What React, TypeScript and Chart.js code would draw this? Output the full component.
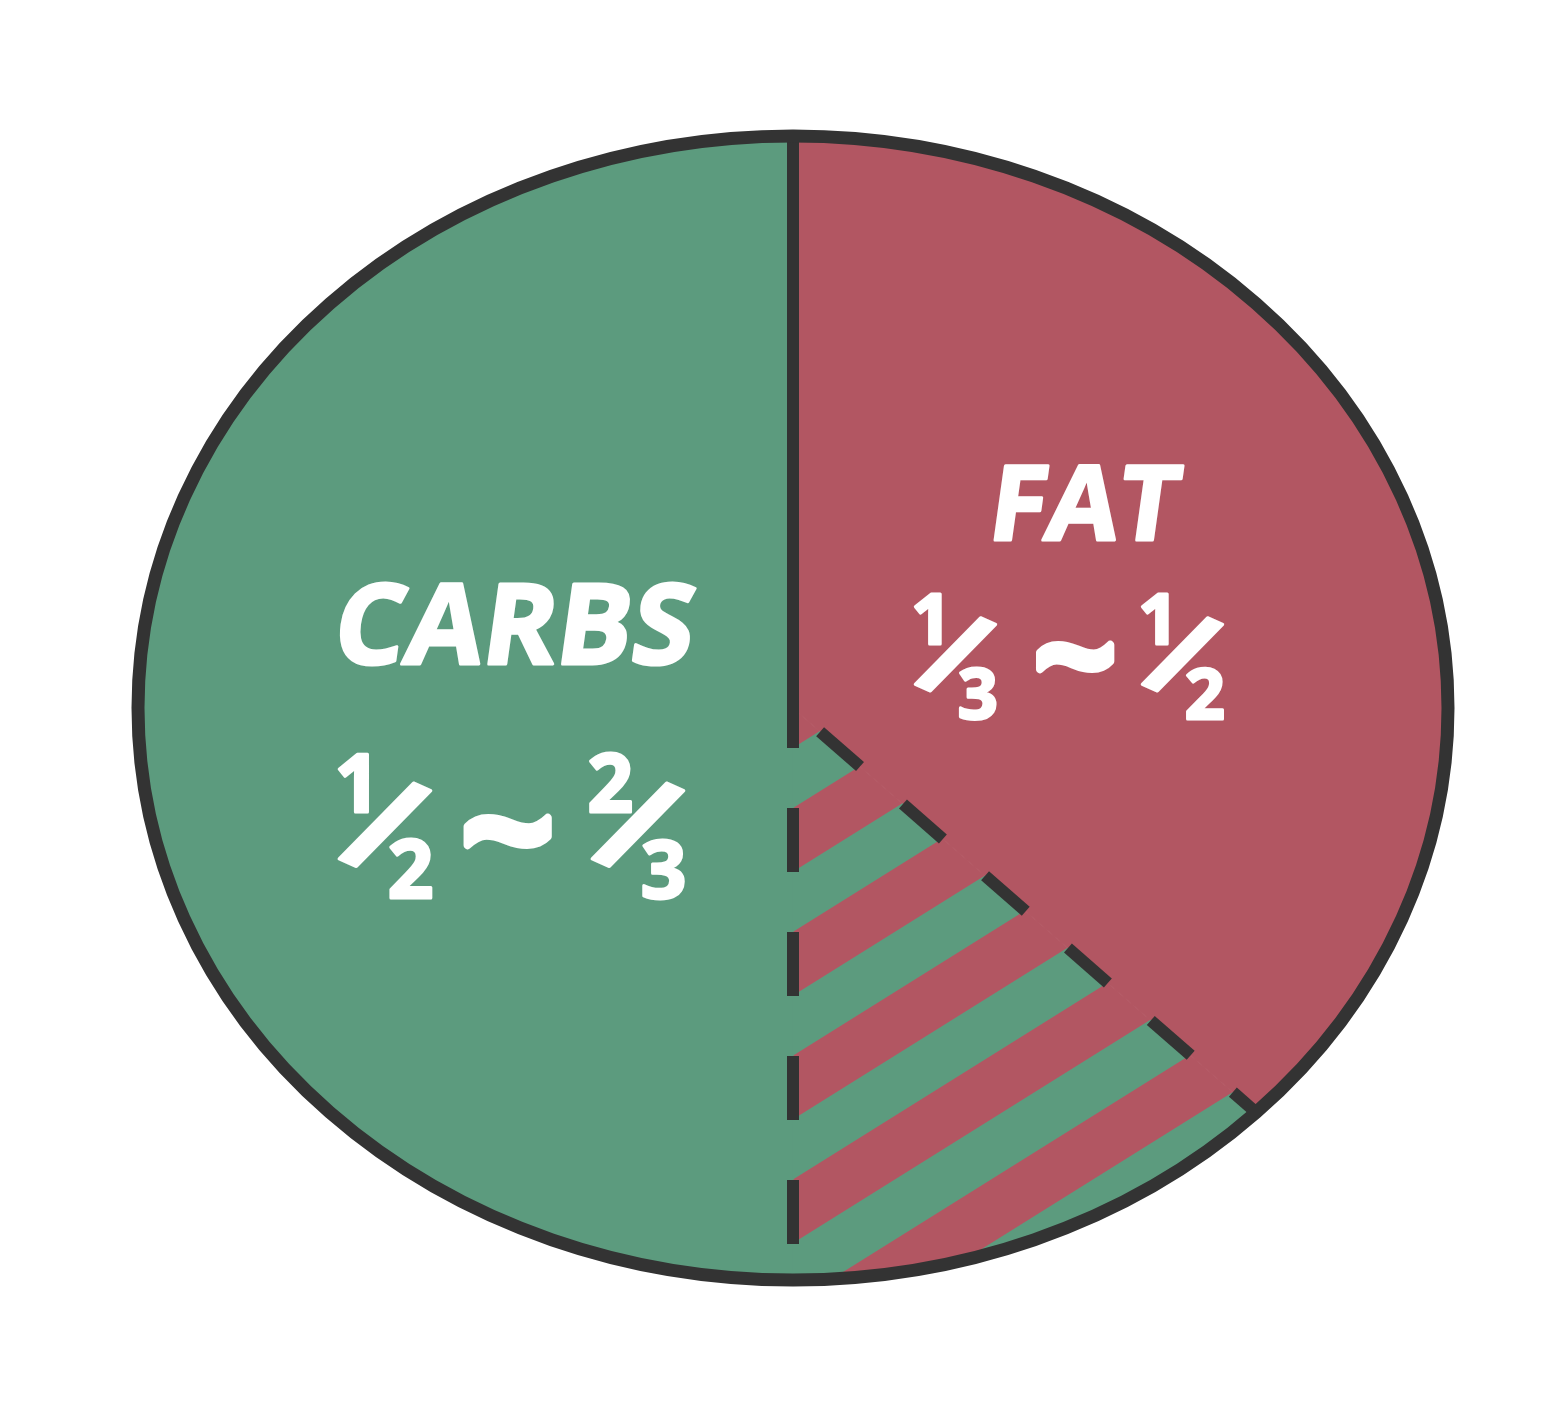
import { useEffect, useRef } from "react";
import { Chart, registerables } from "chart.js";

Chart.register(...registerables);

// ---- data ----
const categories = ["Fat", "Fat or carbs", "Carbs"];
const shares = [37.5, 12.5, 50];
const titles = ["FAT", "", "CARBS"];
const rangeFrom: (string[] | null)[] = [["1", "3"], null, ["1", "2"]];
const rangeTo: (string[] | null)[] = [["1", "2"], null, ["2", "3"]];
const HATCH_INDEX = 1;

// ---- style ----
const GREEN = "#5C9B7E";
const RED = "#B25662";
const INK = "#333333";
const W = 1568;
const H = 1405;
const CX = 793;
const CY = 708;
const RX = 655;
const RY = 572;
const K = RY / RX;
const STRIPE_ANGLE = 32; // degrees, rising to the right
const RED_W = 54;
const GREEN_W = 51;
const PERIOD = RED_W + GREEN_W;
const STRIPE_OFFSET = 100; // first red stripe starts this far below the centre on the vertical edge
const OUTLINE_W = 13;
const INNER_W = 12;
const FONT = '"Open Sans", "DejaVu Sans", sans-serif';

const LABEL_STYLE: any[] = [
  { r: 0.44, title: { dx: 21, dy: -109, size: 104, maxW: 200 }, range: { dx: 16, dy: 47, h: 50, left: -120, right: 107, sdy: -4 } },
  null,
  { r: 0.44, title: { dx: 5, dy: -84, size: 112, maxW: 366 }, range: { dx: 3, dy: 126, h: 57, left: -123, right: 130, sdy: -9 } },
];

let stripePattern: CanvasPattern | null = null;

function makeStripePattern(ctx: CanvasRenderingContext2D) {
  const tile = document.createElement("canvas");
  tile.width = 8;
  tile.height = PERIOD;
  const t = tile.getContext("2d")!;
  t.fillStyle = RED;
  t.fillRect(0, 0, 8, RED_W);
  t.fillStyle = GREEN;
  t.fillRect(0, RED_W, 8, GREEN_W);
  return ctx.createPattern(tile, "repeat");
}

function isRedAt(px: number, py: number, ax: number, ay: number) {
  const th = (STRIPE_ANGLE * Math.PI) / 180;
  const v = (px - ax) * Math.sin(th) + (py - ay) * Math.cos(th);
  const p = ((v % PERIOD) + PERIOD) % PERIOD;
  return p < RED_W;
}

function strokeRadial(ctx: CanvasRenderingContext2D, cx: number, cy: number, R: number, ry: number, angle: number, cond: ((x: number, y: number) => boolean) | null) {
  const ex = cx + R * Math.cos(angle);
  const ey = cy + ry * Math.sin(angle);
  const L = Math.hypot(ex - cx, ey - cy);
  const ux = (ex - cx) / L;
  const uy = (ey - cy) / L;
  ctx.lineWidth = INNER_W;
  ctx.strokeStyle = INK;
  ctx.lineCap = "butt";
  if (!cond) {
    ctx.beginPath();
    ctx.moveTo(cx, cy);
    ctx.lineTo(ex, ey);
    ctx.stroke();
    return;
  }
  let start = -1;
  for (let t = 0; t <= L; t += 1) {
    const on = cond(cx + ux * t, cy + uy * t);
    if (on && start < 0) start = t;
    if ((!on || t + 1 > L) && start >= 0) {
      const end = on ? L : t;
      ctx.beginPath();
      ctx.moveTo(cx + ux * start, cy + uy * start);
      ctx.lineTo(cx + ux * end, cy + uy * end);
      ctx.stroke();
      start = -1;
    }
  }
}

function whiteText(ctx: CanvasRenderingContext2D, text: string, x: number, y: number, font: string, stroke: number, maxW?: number, skew = 0) {
  ctx.save();
  ctx.translate(x, y);
  if (skew) ctx.transform(1, 0, -skew, 1, 0, 0);
  ctx.font = font;
  ctx.fillStyle = "#ffffff";
  ctx.strokeStyle = "#ffffff";
  ctx.lineJoin = "round";
  ctx.lineCap = "round";
  ctx.lineWidth = stroke;
  ctx.textAlign = "center";
  ctx.textBaseline = "alphabetic";
  if (maxW) {
    if (stroke > 0) ctx.strokeText(text, 0, 0, maxW);
    ctx.fillText(text, 0, 0, maxW);
  } else {
    if (stroke > 0) ctx.strokeText(text, 0, 0);
    ctx.fillText(text, 0, 0);
  }
  ctx.restore();
}

function drawFraction(ctx: CanvasRenderingContext2D, num: string, den: string, sx: number, sy: number, h: number) {
  const D = h / 0.714;
  const font = `bold ${D}px ${FONT}`;
  whiteText(ctx, num, sx - 0.48 * h, sy - 0.22 * h, font, 3);
  whiteText(ctx, den, sx + 0.45 * h, sy + 1.28 * h, font, 3);
  const S = 2.45 * h;
  ctx.save();
  ctx.translate(sx, sy);
  ctx.rotate((24 * Math.PI) / 180);
  whiteText(ctx, "/", 0, 0.355 * S, `bold ${S}px ${FONT}`, 3);
  ctx.restore();
}

const ellipsePlugin = {
  id: "ellipsePie",
  beforeDatasetsDraw(chart: any) {
    const arc = chart.getDatasetMeta(0).data[0];
    const { x, y } = arc;
    const ctx: CanvasRenderingContext2D = chart.ctx;
    ctx.save();
    ctx.translate(x, y);
    ctx.scale(1, K);
    ctx.translate(-x, -y);
    if (stripePattern) {
      const m = new DOMMatrix()
        .translate(x, y)
        .scale(1, 1 / K)
        .translate(-x, -y)
        .translate(x, y + STRIPE_OFFSET)
        .rotate(-STRIPE_ANGLE);
      stripePattern.setTransform(m);
    }
  },
  afterDatasetsDraw(chart: any) {
    const ctx: CanvasRenderingContext2D = chart.ctx;
    ctx.restore();
    const arcs = chart.getDatasetMeta(0).data;
    const { x: cx, y: cy, outerRadius: R } = arcs[0];
    const ry = R * K;
    const ax = cx;
    const ay = cy + STRIPE_OFFSET;
    strokeRadial(ctx, cx, cy, R, ry, arcs[0].startAngle, null);
    const hatch = arcs[HATCH_INDEX];
    strokeRadial(ctx, cx, cy, R, ry, hatch.startAngle, (px, py) => !isRedAt(px, py, ax, ay));
    strokeRadial(ctx, cx, cy, R, ry, hatch.endAngle, (px, py) => isRedAt(px, py, ax, ay));
    ctx.beginPath();
    ctx.ellipse(cx, cy, R, ry, 0, 0, Math.PI * 2);
    ctx.lineWidth = OUTLINE_W;
    ctx.strokeStyle = INK;
    ctx.stroke();

    arcs.forEach((arc: any, i: number) => {
      const st = LABEL_STYLE[i];
      if (!st || !titles[i]) return;
      const mid = (arc.startAngle + arc.endAngle) / 2;
      const px = cx + st.r * R * Math.cos(mid);
      const py = cy + st.r * ry * Math.sin(mid);
      const ts = st.title;
      whiteText(ctx, titles[i], px + ts.dx, py + ts.dy + 0.357 * ts.size, `700 ${ts.size}px ${FONT}`, 3, ts.maxW, 0.14);
      const rs = st.range;
      const tx = px + rs.dx;
      const ty = py + rs.dy;
      const T = 2.9 * rs.h;
      whiteText(ctx, "~", tx, ty + 0.34 * T, `bold ${T}px ${FONT}`, 8);
      const a = rangeFrom[i];
      const b = rangeTo[i];
      if (a) drawFraction(ctx, a[0], a[1], tx + rs.left, ty + rs.sdy, rs.h);
      if (b) drawFraction(ctx, b[0], b[1], tx + rs.right, ty + rs.sdy, rs.h);
    });
  },
};

export default function App() {
  const ref = useRef<HTMLCanvasElement | null>(null);
  useEffect(() => {
    const canvas = ref.current!;
    const ctx = canvas.getContext("2d")!;
    stripePattern = makeStripePattern(ctx);
    const fills = [RED, stripePattern, GREEN];
    const chart = new Chart(canvas, {
      type: "pie",
      data: {
        labels: categories,
        datasets: [
          {
            data: shares,
            backgroundColor: fills as any,
            borderColor: fills as any,
            borderWidth: 1,
            radius: RX,
          } as any,
        ],
      },
      options: {
        animation: false,
        responsive: false,
        events: [],
        layout: { padding: { left: 2 * CX - W, right: 0, top: 2 * CY - H, bottom: 0 } },
        plugins: { legend: { display: false }, tooltip: { enabled: false } },
      },
      plugins: [ellipsePlugin],
    });
    return () => chart.destroy();
  }, []);
  return (
    <div style={{ position: "fixed", left: 0, top: 0, width: W, height: H, background: "#ffffff" }}>
      <canvas ref={ref} width={W} height={H} style={{ display: "block", width: W, height: H }} />
    </div>
  );
}
